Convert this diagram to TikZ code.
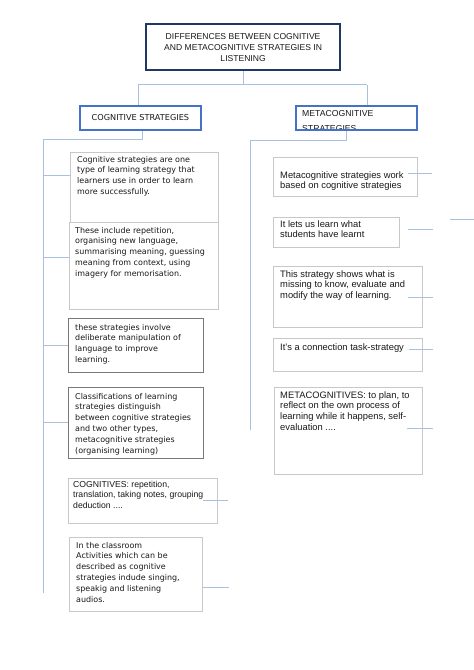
\documentclass[tikz,border=0pt]{standalone}
\usepackage{fontspec}
\setmainfont{Liberation Sans}
\newfontfamily\dejavu{DejaVu Sans}
\definecolor{lineblue}{RGB}{168,194,222}
\definecolor{navy}{RGB}{31,56,100}
\definecolor{midblue}{RGB}{68,114,196}
\definecolor{lightgray}{RGB}{200,200,200}
\definecolor{darkgray}{RGB}{120,120,120}
\definecolor{textc}{RGB}{25,25,25}
\newcommand\toplines[1]{\begin{tabular}[t]{@{}l@{}}#1\end{tabular}}
\begin{document}
\begin{tikzpicture}[x=1bp,y=-1bp,
  conn/.style={draw=lineblue, line width=1bp},
  boxbase/.style={anchor=north west, inner sep=0pt, fill=white},
  titlebox/.style={boxbase, draw=navy, line width=2.2bp, align=center, text=textc,
     font=\fontsize{8.6}{11}\selectfont},
  headbox/.style={boxbase, draw=midblue, line width=1.8bp, text=textc},
  lbox/.style={boxbase, draw=lightgray, line width=0.9bp},
  dbox/.style={boxbase, draw=darkgray, line width=0.9bp},
  ltext/.style={anchor=base west, inner sep=0pt, text=textc,
     font=\dejavu\fontsize{8}{11}\selectfont},
  rtext/.style={anchor=base west, inner sep=0pt, text=textc,
     font=\fontsize{9.4}{11}\selectfont}
]
\useasboundingbox (0,0) rectangle (474,670);
\fill[white] (0,0) rectangle (474,670);

% ---------- title and heads
\node[titlebox, minimum width=194bp, minimum height=46bp] (title) at (145,23)
  {DIFFERENCES BETWEEN COGNITIVE\\AND METACOGNITIVE STRATEGIES IN\\LISTENING};
\node[headbox, minimum width=121bp, minimum height=24bp,
  font=\dejavu\fontsize{8.2}{10}\selectfont] (cog) at (79,105) {COGNITIVE STRATEGIES};
\begin{scope}
  \clip (295,105) rectangle (416,129);
  \node[rtext, font=\fontsize{8.7}{11}\selectfont] (metat) at (302,117) {\toplines{METACOGNITIVE\\[3.5bp]STRATEGIES}};
\end{scope}
\node[headbox, fill=none, minimum width=121bp, minimum height=24bp] (meta) at (295,105) {};

% ---------- top connectors
\coordinate (hl) at (138,85);
\coordinate (hr) at (367,85);
\draw[conn] (title.south) -- (title.south |- hl);
\draw[conn] (hl) -- (hr);
\draw[conn] (hl) -- (hl |- cog.north);
\draw[conn] (hr) -- (hr |- meta.north);

% ---------- left spine
\coordinate (cb) at (142,139);
\coordinate (ls) at (43,139);
\coordinate (le) at (43,593);
\draw[conn] (cb |- cog.south) -- (cb) -- (ls) -- (le);

% ---------- left boxes
\node[lbox, minimum width=148bp, minimum height=86bp] (c1) at (70,152) {};
\node[ltext] (c1t) at (77,162) {\toplines{Cognitive strategies are one\\type of learning strategy that\\learners use in order to learn\\more successfully.}};
\node[lbox, minimum width=149bp, minimum height=87bp] (c2) at (69,222) {};
\node[ltext] (c2t) at (75,233) {\toplines{These include repetition,\\organising new language,\\summarising meaning, guessing\\meaning from context, using\\imagery for memorisation.}};
\node[dbox, minimum width=135bp, minimum height=54bp] (c3) at (68,318) {};
\node[ltext] (c3t) at (75,330) {\toplines{these strategies involve\\deliberate manipulation of\\language to improve\\learning.}};
\node[dbox, minimum width=135bp, minimum height=71bp] (c4) at (68,387) {};
\node[ltext] (c4t) at (75,399) {\toplines{Classifications of learning\\strategies distinguish\\between cognitive strategies\\and two other types,\\metacognitive strategies\\(organising learning)}};
\node[lbox, minimum width=149bp, minimum height=45bp] (c5) at (68,478) {};
\node[rtext, font=\fontsize{8.7}{11}\selectfont] (c5t) at (73,487) {\toplines{COGNITIVES: repetition,\\translation, taking notes, grouping\\deduction ....}};
\node[lbox, minimum width=133bp, minimum height=74bp] (c6) at (69,537) {};
\node[ltext] (c6t) at (76,548) {\toplines{In the classroom\\Activities which can be\\described as cognitive\\strategies indude singing,\\speakig and listening\\audios.}};

\draw[conn] (43,175) -- (c1.west |- 0,175);
\draw[conn] (43,257) -- (c2.west |- 0,257);
\draw[conn] (43,345) -- (c3.west |- 0,345);
\draw[conn] (43,422) -- (c4.west |- 0,422);
\coordinate (c5a) at (203,500);
\coordinate (c5b) at (228,500);
\draw[conn] (c5a) -- (c5b);
\coordinate (c6b) at (229,587);
\draw[conn] (c6.east |- c6b) -- (c6b);

% ---------- right spine
\coordinate (mb) at (346,140);
\coordinate (rs) at (250,140);
\coordinate (re) at (250,430);
\draw[conn] (mb |- meta.south) -- (mb) -- (rs) -- (re);

% ---------- right boxes
\node[lbox, minimum width=144bp, minimum height=39bp] (m1) at (273,157) {};
\node[rtext] (m1t) at (280,178) {\toplines{Metacognitive strategies work\\based on cognitive strategies}};
\node[lbox, minimum width=126bp, minimum height=30bp] (m2) at (273,217) {};
\node[rtext] (m2t) at (280,227) {\toplines{It lets us learn what\\students have learnt}};
\node[lbox, minimum width=149bp, minimum height=61bp] (m3) at (273,266) {};
\node[rtext] (m3t) at (280,277) {\toplines{This strategy shows what is\\missing to know, evaluate and\\modify the way of learning.}};
\node[lbox, minimum width=149bp, minimum height=33bp] (m4) at (273,338) {};
\node[rtext] (m4t) at (280,350) {It's a connection task-strategy};
\node[lbox, minimum width=148bp, minimum height=87bp] (m5) at (274,387) {};
\node[rtext] (m5t) at (280,398) {\toplines{METACOGNITIVES: to plan, to\\reflect on the own process of\\learning while it happens, self-\\evaluation ....}};

% ---------- right free lines
\coordinate (r1a) at (408,173); \coordinate (r1b) at (432,173);
\coordinate (r2a) at (408,229); \coordinate (r2b) at (433,229);
\coordinate (r2c) at (450,219); \coordinate (r2d) at (474,219);
\coordinate (r3a) at (408,297); \coordinate (r3b) at (433,297);
\coordinate (r4a) at (409,349); \coordinate (r4b) at (433,349);
\coordinate (r5a) at (407,428); \coordinate (r5b) at (433,428);
\draw[conn] (r1a) -- (r1b);
\draw[conn] (r2a) -- (r2b);
\draw[conn] (r2c) -- (r2d);
\draw[conn] (r3a) -- (r3b);
\draw[conn] (r4a) -- (r4b);
\draw[conn] (r5a) -- (r5b);
\end{tikzpicture}
\end{document}
